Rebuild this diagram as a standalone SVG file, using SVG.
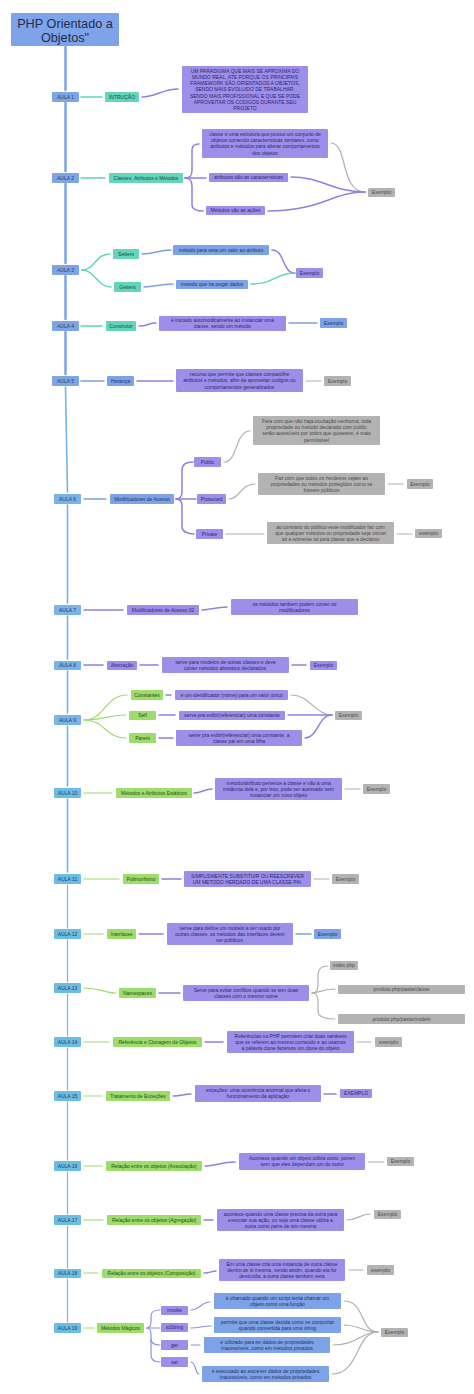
<svg xmlns="http://www.w3.org/2000/svg" width="474" height="1394" viewBox="0 0 474 1394">
<defs>
<style>
text{font-family:"Liberation Sans",Arial,sans-serif;font-size:5px;text-anchor:middle}
.title{font-size:12.7px;fill:#1f2d52}
.tb{fill:#7fa3e8}
.aa{fill:#7ea6e6}.ab{fill:#78b3ea}.ac{fill:#6dbce4}
.ta{fill:#233a6a}
.teal{fill:#63d5bb}.tt{fill:#1c4a40}
.pur{fill:#9d8fe9}.tp{fill:#2d2570}
.gray{fill:#b3b3b3}.tg{fill:#4a4a4a}
.green{fill:#9ddd6c}.tgr{fill:#2c4a16}
.blue{fill:#7ea2e8}.tb2{fill:#1f3364}
path{fill:none;stroke-linecap:round}
.s1{stroke:#7ea3e6;stroke-width:2.5}
.s2{stroke:#72b4ea;stroke-width:1.6}
.s3{stroke:#6cbce4;stroke-width:1.2}
.cteal{stroke:#5fd5bd;stroke-width:1.5}
.cpur{stroke:#8f80e2;stroke-width:1.5}
.cgray{stroke:#b0b0b0;stroke-width:1.2}
.cblue{stroke:#7d9fe6;stroke-width:1.5}
.cgreen{stroke:#9ddb6e;stroke-width:1.2}
.cbp{stroke:#8c90e6;stroke-width:1.2}
</style>
<marker id="arr" viewBox="0 0 6 6" refX="5" refY="3" markerWidth="3" markerHeight="3" orient="auto"><path d="M0,0 L6,3 L0,6 z" fill="#7ea3e6" stroke="none"/></marker>
<marker id="arr2" viewBox="0 0 6 6" refX="5" refY="3" markerWidth="3" markerHeight="3" orient="auto"><path d="M0,0 L6,3 L0,6 z" fill="#6cbce4" stroke="none"/></marker>
</defs>

<g id="connectors">
<!-- spine -->
<path class="s1" d="M65.5,47 L65.5,90" marker-end="url(#arr)"/>
<path class="s1" d="M65.5,103 L65.5,171" marker-end="url(#arr)"/>
<path class="s1" d="M65.5,184 L65.5,263" marker-end="url(#arr)"/>
<path class="s1" d="M65.5,276 L65.5,319" marker-end="url(#arr)"/>
<path class="s1" d="M65.5,332 L65.5,374" marker-end="url(#arr)"/>
<path class="s2" d="M65.5,387 L67.5,492" marker-end="url(#arr2)"/>
<path class="s2" d="M67.5,505 L67.5,603" marker-end="url(#arr2)"/>
<path class="s2" d="M67.5,616 L67.5,659" marker-end="url(#arr2)"/>
<path class="s2" d="M67.5,671 L67.5,713" marker-end="url(#arr2)"/>
<path class="s2" d="M67.5,726 L67.5,786" marker-end="url(#arr2)"/>
<path class="s2" d="M67.5,799 L67.5,872" marker-end="url(#arr2)"/>
<path class="s3" d="M67.5,885 L67.5,928"/>
<path class="s3" d="M67.5,940 L67.5,982"/>
<path class="s3" d="M67.5,994 L67.5,1036"/>
<path class="s3" d="M67.5,1048 L67.5,1090"/>
<path class="s3" d="M67.5,1102 L67.5,1160"/>
<path class="s3" d="M67.5,1172 L67.5,1214"/>
<path class="s3" d="M67.5,1226 L67.5,1268"/>
<path class="s3" d="M67.5,1279 L67.5,1322"/>
<!-- aula 1 -->
<path class="cteal" d="M81,97 L102,97"/>
<path class="cpur" d="M142,97 C155,97 163,89 178,89"/>
<!-- aula 2 -->
<path class="cteal" d="M81,178 L105,178"/>
<path class="cpur" d="M185,178 C190,178 192,176 192,170 L192,150 C192,146 195,144 199,144"/>
<path class="cpur" d="M185,178 L206,178"/>
<path class="cpur" d="M185,178 C190,178 192,180 192,186 L192,205 C192,209 197,211 203,211"/>
<path class="cgray" d="M331,143 C348,143 340,192 365,192"/>
<path class="cpur" d="M291,177 C322,177 332,192 365,192"/>
<path class="cpur" d="M268,211 C322,211 332,192 365,192"/>
<!-- aula 3 -->
<path class="cteal" d="M82,270 C95,270 95,254 110,254"/>
<path class="cteal" d="M82,270 C95,270 97,287 111,287"/>
<path class="cblue" d="M142,254 C155,254 158,250 171,250"/>
<path class="cblue" d="M144,287 C155,287 160,284 173,284"/>
<path class="cpur" d="M272,250 C285,250 282,273 295,273"/>
<path class="cteal" d="M251,284 C275,284 275,273 295,273"/>
<!-- aula 4 -->
<path class="cteal" d="M81,326 L102,326"/>
<path class="cpur" d="M139,326 C148,326 148,323 156,323"/>
<path class="cblue" d="M289,323 L317,323"/>
<!-- aula 5 -->
<path class="cblue" d="M81,381 L104,381"/>
<path class="cpur" d="M137,381 L173,381"/>
<path class="cgray" d="M306,381 L321,381"/>
<!-- aula 6 -->
<path class="cblue" d="M84,499 L106,499"/>
<path class="cpur" d="M176,499 C180,499 182,497 182,492 L182,470 C182,465 186,462 193,462"/>
<path class="cpur" d="M176,499 L196,499"/>
<path class="cpur" d="M176,499 C180,499 182,501 182,506 L182,527 C182,531 187,534 194,534"/>
<path class="cgray" d="M224,462 C238,462 235,431 250,431"/>
<path class="cgray" d="M229,499 C240,499 240,484 255,484"/>
<path class="cgray" d="M388,484 L403,484"/>
<path class="cgray" d="M226,534 L264,534"/>
<path class="cgray" d="M397,534 L412,534"/>
<!-- aula 7 -->
<path class="cpur" d="M84,610 L123,610"/>
<path class="cpur" d="M202,610 C212,610 215,607 227,607"/>
<!-- aula 8 -->
<path class="cpur" d="M84,665 L103,665"/>
<path class="cpur" d="M140,665 L158,665"/>
<path class="cpur" d="M292,665 L306,665"/>
<!-- aula 9 -->
<path class="cgreen" d="M84,720 C105,720 105,695 127,695"/>
<path class="cgreen" d="M84,720 C105,720 108,715 126,715"/>
<path class="cgreen" d="M84,720 C105,720 105,738 126,738"/>
<path class="cpur" d="M166,695 L171,695"/>
<path class="cpur" d="M159,715 L175,715"/>
<path class="cpur" d="M159,738 L173,738"/>
<path class="cgray" d="M291,695 C310,695 315,715 332,715"/>
<path class="cpur" d="M288,715 L332,715"/>
<path class="cpur" d="M305,738 C318,738 318,715 332,715"/>
<!-- aula 10 -->
<path class="cgreen" d="M84,793 L112,793"/>
<path class="cpur" d="M194,793 C202,793 204,789 212,789"/>
<path class="cgray" d="M345,789 L360,789"/>
<!-- aula 11 -->
<path class="cgreen" d="M84,879 L119,879"/>
<path class="cpur" d="M162,879 L181,879"/>
<path class="cgray" d="M314,879 L329,879"/>
<!-- aula 12 -->
<path class="cgreen" d="M84,934 L103,934"/>
<path class="cpur" d="M139,934 L163,934"/>
<path class="cblue" d="M296,934 L311,934"/>
<!-- aula 13 -->
<path class="cgreen" d="M84,988 C100,988 105,993 116,993"/>
<path class="cpur" d="M159,993 L180,993"/>
<path class="cgray" d="M312,993 C316,993 318,990 318,985 L318,975 C318,969 322,966 328,966"/>
<path class="cgray" d="M312,993 C318,993 322,989 335,989"/>
<path class="cgray" d="M312,993 C316,993 318,996 318,1001 L318,1011 C318,1016 324,1019 335,1019"/>
<!-- aula 14 -->
<path class="cgreen" d="M84,1042 L109,1042"/>
<path class="cpur" d="M205,1042 L223,1042"/>
<path class="cgray" d="M357,1042 L371,1042"/>
<!-- aula 15 -->
<path class="cgreen" d="M84,1096 L102,1096"/>
<path class="cpur" d="M173,1096 C182,1096 183,1094 191,1094"/>
<path class="cpur" d="M324,1094 L336,1094"/>
<!-- aula 16 -->
<path class="cgreen" d="M84,1166 L102,1166"/>
<path class="cpur" d="M205,1166 C215,1166 222,1162 235,1162"/>
<path class="cgray" d="M368,1162 L384,1162"/>
<!-- aula 17 -->
<path class="cgreen" d="M84,1220 L103,1220"/>
<path class="cpur" d="M204,1220 L213,1220"/>
<path class="cgray" d="M347,1220 C358,1220 360,1214 370,1214"/>
<!-- aula 18 -->
<path class="cgreen" d="M84,1273 L98,1273"/>
<path class="cpur" d="M204,1273 C210,1273 212,1271 216,1271"/>
<path class="cgray" d="M349,1270 L363,1270"/>
<!-- aula 19 -->
<path class="cgreen" d="M84,1328 L94,1328"/>
<path class="cbp" d="M147,1328 C150,1328 151,1325 151,1321 L151,1316 C151,1312 154,1310 160,1310"/>
<path class="cbp" d="M147,1328 L160,1328"/>
<path class="cbp" d="M147,1328 C150,1328 151,1331 151,1335 L151,1355 C151,1359 154,1362 160,1362"/>
<path class="cbp" d="M151,1339 C151,1343 154,1345 160,1345"/>
<path class="cbp" d="M191,1310 C200,1310 201,1302 210,1302"/>
<path class="cbp" d="M191,1328 C200,1328 202,1326 211,1326"/>
<path class="cbp" d="M191,1345 L200,1345"/>
<path class="cbp" d="M191,1362 C196,1362 195,1374 199,1374"/>
<path class="cgray" d="M344,1301 C365,1301 360,1332 378,1332"/>
<path class="cgray" d="M344,1325 C360,1325 362,1332 378,1332"/>
<path class="cgray" d="M333,1345 C358,1345 360,1332 378,1332"/>
<path class="cgray" d="M332,1374 C360,1374 355,1332 378,1332"/>
</g>

<g id="title"><rect class="tb" x="11" y="13" width="108" height="33" rx="1"/><text class="title" x="65" y="28">PHP Orientado a</text><text class="title" x="65" y="41.5">Objetos"</text></g>

<g id="aula1"><rect class="aa" x="52" y="92" width="27" height="10" rx="1"/><text class="ta" x="65.5" y="98.8">AULA 1</text></g>
<g id="intrucao"><rect class="teal" x="105" y="92" width="34" height="10" rx="1"/><text class="tt" x="122" y="98.8">INTRUÇÃO</text></g>
<g id="paradigma"><rect class="pur" x="182" y="66" width="126" height="47" rx="1"/><text class="tp" x="245" y="72.7">UM PARADIGMA QUE MAIS SE APROXIMA DO</text><text class="tp" x="245" y="78.9">MUNDO REAL, ATE PORQUE OS PRINCIPAIS</text><text class="tp" x="245" y="85.1">FRAMEWORK SÃO ORIENTADOS A OBJETOS,</text><text class="tp" x="245" y="91.3">SENDO MAIS EVOLUIDO DE TRABALHAR,</text><text class="tp" x="245" y="97.5">SENDO MAIS PROFISSIONAL E QUE SE PODE</text><text class="tp" x="245" y="103.7">APROVEITAR OS CODIGOS DURANTE SEU</text><text class="tp" x="245" y="109.9">PROJETO</text></g>

<g id="aula2"><rect class="aa" x="52" y="173" width="27" height="10" rx="1"/><text class="ta" x="65.5" y="179.8">AULA 2</text></g>
<g id="classes"><rect class="teal" x="109" y="173" width="74" height="10" rx="1"/><text class="tt" x="146" y="179.8">Classes, Atributos e Métodos</text></g>
<g id="classe-desc"><rect class="pur" x="202" y="129" width="126" height="29" rx="1"/><text class="tp" x="265" y="136">classe é uma estrutura que possui um conjunto de</text><text class="tp" x="265" y="142.2">objetos contendo características similares, como</text><text class="tp" x="265" y="148.4">atributos e métodos para alterar comportamentos</text><text class="tp" x="265" y="154.6">dos objetos</text></g>
<g id="atributos"><rect class="pur" x="209" y="173" width="79" height="9" rx="1"/><text class="tp" x="248.5" y="179.3">atributos são as características</text></g>
<g id="metodos"><rect class="pur" x="206" y="206" width="59" height="9" rx="1"/><text class="tp" x="235.5" y="212.3">Métodos são as ações</text></g>
<g id="ex2"><rect class="gray" x="368" y="188" width="27" height="9" rx="1"/><text class="tg" x="381.5" y="194.3">Exemplo</text></g>

<g id="aula3"><rect class="aa" x="52" y="265" width="27" height="10" rx="1"/><text class="ta" x="65.5" y="271.8">AULA 3</text></g>
<g id="setters"><rect class="teal" x="113" y="249" width="26" height="10" rx="1"/><text class="tt" x="126" y="255.8">Setters</text></g>
<g id="getters"><rect class="teal" x="114" y="282" width="27" height="10" rx="1"/><text class="tt" x="127.5" y="288.8">Getters</text></g>
<g id="setters-desc"><rect class="blue" x="173" y="245" width="96" height="10" rx="1"/><text class="tb2" x="221" y="251.8">método para seta um valor ao atributo</text></g>
<g id="getters-desc"><rect class="blue" x="176" y="280" width="72" height="9" rx="1"/><text class="tb2" x="212" y="286.3">método que ira pegar dados</text></g>
<g id="ex3"><rect class="pur" x="296" y="268" width="27" height="10" rx="1"/><text class="tp" x="309.5" y="274.8">Exemplo</text></g>

<g id="aula4"><rect class="aa" x="52" y="321" width="27" height="10" rx="1"/><text class="ta" x="65.5" y="327.8">AULA 4</text></g>
<g id="construtor"><rect class="teal" x="106" y="321" width="30" height="10" rx="1"/><text class="tt" x="121" y="327.8">Construtor</text></g>
<g id="construtor-desc"><rect class="pur" x="159" y="316" width="127" height="15" rx="1"/><text class="tp" x="222.5" y="322.2">é iniciado automodicamente ao instanciar uma</text><text class="tp" x="222.5" y="328.4">classe, sendo um método</text></g>
<g id="ex4"><rect class="blue" x="320" y="318" width="27" height="10" rx="1"/><text class="tb2" x="333.5" y="324.8">Exemplo</text></g>

<g id="aula5"><rect class="aa" x="52" y="376" width="27" height="10" rx="1"/><text class="ta" x="65.5" y="382.8">AULA 5</text></g>
<g id="heranca"><rect class="blue" x="107" y="376" width="27" height="10" rx="1"/><text class="tb2" x="120.5" y="382.8">Herança</text></g>
<g id="heranca-desc"><rect class="pur" x="176" y="369" width="127" height="23" rx="1"/><text class="tp" x="239.5" y="376.1">recurso que permite que classes compartilhe</text><text class="tp" x="239.5" y="382.3">atributos e métodos, afim de aproveitar codigos ou</text><text class="tp" x="239.5" y="388.5">comportamentos generalizados</text></g>
<g id="ex5"><rect class="gray" x="324" y="376" width="27" height="10" rx="1"/><text class="tg" x="337.5" y="382.8">Exemplo</text></g>

<g id="aula6"><rect class="ab" x="54" y="494" width="27" height="10" rx="1"/><text class="ta" x="67.5" y="500.8">AULA 6</text></g>
<g id="modificadores"><rect class="blue" x="110" y="494" width="64" height="10" rx="1"/><text class="tb2" x="142" y="500.8">Modificadores de Acesso</text></g>
<g id="public"><rect class="pur" x="194" y="457" width="27" height="10" rx="1"/><text class="tp" x="207.5" y="463.8">Public</text></g>
<g id="protected"><rect class="pur" x="197" y="494" width="29" height="10" rx="1"/><text class="tp" x="211.5" y="500.8">Protected</text></g>
<g id="private"><rect class="pur" x="196" y="529" width="27" height="10" rx="1"/><text class="tp" x="209.5" y="535.8">Private</text></g>
<g id="public-desc"><rect class="gray" x="253" y="416" width="127" height="29" rx="1"/><text class="tg" x="316.5" y="423">Fara com que não haja ocultação nenhuma, toda</text><text class="tg" x="316.5" y="429.2">propriedade ou método declarado com public</text><text class="tg" x="316.5" y="435.4">serão acessíveis por todos que quiserem, é mais</text><text class="tg" x="316.5" y="441.6">permissivel</text></g>
<g id="protected-desc"><rect class="gray" x="258" y="473" width="127" height="22" rx="1"/><text class="tg" x="321.5" y="479.6">Faz com que todos os herdeiros vejam as</text><text class="tg" x="321.5" y="485.8">propriedades ou métodos protegidos como se</text><text class="tg" x="321.5" y="492">fossem públicos</text></g>
<g id="ex6b"><rect class="gray" x="407" y="479" width="26" height="10" rx="1"/><text class="tg" x="420" y="485.8">Exemplo</text></g>
<g id="private-desc"><rect class="gray" x="267" y="522" width="127" height="22" rx="1"/><text class="tg" x="330.5" y="528.6">ao contrario do público esse modificador faz com</text><text class="tg" x="330.5" y="534.8">que qualquer métodos ou propriedade seja visível</text><text class="tg" x="330.5" y="541">só e somente só pela classe que a declarou</text></g>
<g id="ex6c"><rect class="gray" x="415" y="529" width="27" height="9" rx="1"/><text class="tg" x="428.5" y="535.3">exemplo</text></g>

<g id="aula7"><rect class="ab" x="54" y="605" width="27" height="10" rx="1"/><text class="ta" x="67.5" y="611.8">AULA 7</text></g>
<g id="modificadores02"><rect class="pur" x="127" y="605" width="72" height="10" rx="1"/><text class="tp" x="163" y="611.8">Modificadores de Acesso 02</text></g>
<g id="mod02-desc"><rect class="pur" x="231" y="599" width="127" height="16" rx="1"/><text class="tp" x="294.5" y="605.7">os métodos também podem conter os</text><text class="tp" x="294.5" y="611.9">modificadores</text></g>

<g id="aula8"><rect class="ab" x="54" y="661" width="27" height="9" rx="1"/><text class="ta" x="67.5" y="667.3">AULA 8</text></g>
<g id="abstracao"><rect class="pur" x="107" y="661" width="30" height="9" rx="1"/><text class="tp" x="122" y="667.3">Abstração</text></g>
<g id="abstracao-desc"><rect class="pur" x="162" y="657" width="127" height="16" rx="1"/><text class="tp" x="225.5" y="663.7">serve para modelos de outras classes e deve</text><text class="tp" x="225.5" y="669.9">conter métodos abstratos declarados.</text></g>
<g id="ex8"><rect class="pur" x="310" y="661" width="27" height="9" rx="1"/><text class="tp" x="323.5" y="667.3">Exemplo</text></g>

<g id="aula9"><rect class="ab" x="54" y="715" width="27" height="10" rx="1"/><text class="ta" x="67.5" y="721.8">AULA 9</text></g>
<g id="constantes"><rect class="green" x="131" y="690" width="32" height="10" rx="1"/><text class="tgr" x="147" y="696.8">Constantes</text></g>
<g id="self"><rect class="green" x="129" y="711" width="27" height="9" rx="1"/><text class="tgr" x="142.5" y="717.3">Self</text></g>
<g id="parent"><rect class="green" x="129" y="733" width="27" height="10" rx="1"/><text class="tgr" x="142.5" y="739.8">Parent</text></g>
<g id="constantes-desc"><rect class="pur" x="175" y="690" width="113" height="10" rx="1"/><text class="tp" x="231.5" y="696.8">é um identificador (nome) para um valor único</text></g>
<g id="self-desc"><rect class="pur" x="179" y="711" width="106" height="9" rx="1"/><text class="tp" x="232" y="717.3">serve pra exibir(referenciar) uma constante</text></g>
<g id="parent-desc"><rect class="pur" x="176" y="730" width="126" height="16" rx="1"/><text class="tp" x="239" y="736.7">serve pra exibir(referenciar) uma constante, a</text><text class="tp" x="239" y="742.9">classe pai em uma filha</text></g>
<g id="ex9"><rect class="gray" x="335" y="711" width="27" height="9" rx="1"/><text class="tg" x="348.5" y="717.3">Exemplo</text></g>

<g id="aula10"><rect class="ac" x="54" y="788" width="27" height="10" rx="1"/><text class="ta" x="67.5" y="794.8">AULA 10</text></g>
<g id="estaticos"><rect class="green" x="116" y="788" width="76" height="10" rx="1"/><text class="tgr" x="154" y="794.8">Métodos e Atributos Estáticos</text></g>
<g id="estaticos-desc"><rect class="pur" x="215" y="778" width="127" height="22" rx="1"/><text class="tp" x="278.5" y="784.6">método/atributo pertence à classe e não à uma</text><text class="tp" x="278.5" y="790.8">instância dela e, por isso, pode ser acessado sem</text><text class="tp" x="278.5" y="797">instanciar um novo objeto</text></g>
<g id="ex10"><rect class="gray" x="363" y="784" width="27" height="10" rx="1"/><text class="tg" x="376.5" y="790.8">Exemplo</text></g>

<g id="aula11"><rect class="ac" x="54" y="874" width="27" height="10" rx="1"/><text class="ta" x="67.5" y="880.8">AULA 11</text></g>
<g id="polimorfismo"><rect class="green" x="123" y="874" width="36" height="10" rx="1"/><text class="tgr" x="141" y="880.8">Polimorfismo</text></g>
<g id="polimorfismo-desc"><rect class="pur" x="184" y="871" width="127" height="16" rx="1"/><text class="tp" x="247.5" y="877.7">SIMPLISMENTE SUBSTITUIR OU REESCREVER</text><text class="tp" x="247.5" y="883.9">UM METODO HERDADO DE UMA CLASSE PAI.</text></g>
<g id="ex11"><rect class="gray" x="332" y="874" width="27" height="10" rx="1"/><text class="tg" x="345.5" y="880.8">Exemplo</text></g>

<g id="aula12"><rect class="ac" x="54" y="929" width="27" height="10" rx="1"/><text class="ta" x="67.5" y="935.8">AULA 12</text></g>
<g id="interfaces"><rect class="green" x="107" y="929" width="29" height="10" rx="1"/><text class="tgr" x="121.5" y="935.8">Interfaces</text></g>
<g id="interfaces-desc"><rect class="pur" x="167" y="923" width="126" height="22" rx="1"/><text class="tp" x="230" y="929.6">serve para define um modelo a ser usado por</text><text class="tp" x="230" y="935.8">outras classes, os métodos das interfaces devem</text><text class="tp" x="230" y="942">ser públicos.</text></g>
<g id="ex12"><rect class="blue" x="314" y="929" width="27" height="10" rx="1"/><text class="tb2" x="327.5" y="935.8">Exemplo</text></g>

<g id="aula13"><rect class="ac" x="54" y="983" width="27" height="10" rx="1"/><text class="ta" x="67.5" y="989.8">AULA 13</text></g>
<g id="namespaces"><rect class="green" x="119" y="988" width="37" height="10" rx="1"/><text class="tgr" x="137.5" y="994.8">Namespaces</text></g>
<g id="namespaces-desc"><rect class="pur" x="183" y="985" width="126" height="16" rx="1"/><text class="tp" x="246" y="991.7">Serve para evitar conflitos quando se tem duas</text><text class="tp" x="246" y="997.9">classes com o mesmo nome</text></g>
<g id="indexphp"><rect class="gray" x="330" y="961" width="28" height="9" rx="1"/><text class="tg" x="344" y="967.3">index.php</text></g>
<g id="pasta-classe"><rect class="gray" x="338" y="985" width="127" height="9" rx="1"/><text class="tg" x="401.5" y="991.3">produto.php/pasta/classe</text></g>
<g id="pasta-models"><rect class="gray" x="338" y="1014" width="127" height="10" rx="1"/><text class="tg" x="401.5" y="1020.8">produto.php/pasta/models</text></g>

<g id="aula14"><rect class="ac" x="54" y="1037" width="27" height="10" rx="1"/><text class="ta" x="67.5" y="1043.8">AULA 14</text></g>
<g id="referencia"><rect class="green" x="113" y="1037" width="89" height="10" rx="1"/><text class="tgr" x="157.5" y="1043.8">Referência e Clonagem de Objetos</text></g>
<g id="referencia-desc"><rect class="pur" x="227" y="1031" width="127" height="22" rx="1"/><text class="tp" x="290.5" y="1037.6">Referências no PHP permitem criar duas variáveis</text><text class="tp" x="290.5" y="1043.8">que se referem ao mesmo conteúdo e ao usamos</text><text class="tp" x="290.5" y="1050">a palavra clone fazemos um clone do objeto</text></g>
<g id="ex14"><rect class="gray" x="375" y="1037" width="27" height="10" rx="1"/><text class="tg" x="388.5" y="1043.8">exemplo</text></g>

<g id="aula15"><rect class="ac" x="54" y="1091" width="27" height="10" rx="1"/><text class="ta" x="67.5" y="1097.8">AULA 15</text></g>
<g id="tratamento"><rect class="green" x="106" y="1091" width="64" height="10" rx="1"/><text class="tgr" x="138" y="1097.8">Tratamento de Exceções</text></g>
<g id="tratamento-desc"><rect class="pur" x="195" y="1085" width="126" height="17" rx="1"/><text class="tp" x="258" y="1092.2">exceções: uma ocorrência anormal que afeta o</text><text class="tp" x="258" y="1098.4">funcionamento da aplicação</text></g>
<g id="ex15"><rect class="pur" x="340" y="1089" width="32" height="9" rx="1"/><text class="tp" x="356" y="1095.3">EXEMPLO</text></g>

<g id="aula16"><rect class="ac" x="54" y="1161" width="27" height="10" rx="1"/><text class="ta" x="67.5" y="1167.8">AULA 16</text></g>
<g id="associacao"><rect class="green" x="106" y="1161" width="96" height="10" rx="1"/><text class="tgr" x="154" y="1167.8">Relação entre os objetos (Associação)</text></g>
<g id="associacao-desc"><rect class="pur" x="239" y="1153" width="126" height="17" rx="1"/><text class="tp" x="302" y="1160.2">Acontece quando um objeto utiliza outro, porem</text><text class="tp" x="302" y="1166.4">sem que eles dependam um do outro</text></g>
<g id="ex16"><rect class="gray" x="387" y="1157" width="27" height="9" rx="1"/><text class="tg" x="400.5" y="1163.3">Exemplo</text></g>

<g id="aula17"><rect class="ac" x="54" y="1215" width="27" height="10" rx="1"/><text class="ta" x="67.5" y="1221.8">AULA 17</text></g>
<g id="agregacao"><rect class="green" x="107" y="1215" width="94" height="10" rx="1"/><text class="tgr" x="154" y="1221.8">Relação entre os objetos (Agregação)</text></g>
<g id="agregacao-desc"><rect class="pur" x="217" y="1209" width="127" height="22" rx="1"/><text class="tp" x="280.5" y="1215.6">acontece quando uma classe precisa da outra para</text><text class="tp" x="280.5" y="1221.8">executar sua ação, ou seja uma classe utiliza a</text><text class="tp" x="280.5" y="1228">outra como parte de sim mesma</text></g>
<g id="ex17"><rect class="gray" x="374" y="1210" width="27" height="9" rx="1"/><text class="tg" x="387.5" y="1216.3">Exemplo</text></g>

<g id="aula18"><rect class="ac" x="54" y="1269" width="27" height="9" rx="1"/><text class="ta" x="67.5" y="1275.3">AULA 18</text></g>
<g id="composicao"><rect class="green" x="102" y="1269" width="99" height="9" rx="1"/><text class="tgr" x="151.5" y="1275.3">Relação entre os objetos (Composição)</text></g>
<g id="composicao-desc"><rect class="pur" x="219" y="1259" width="126" height="22" rx="1"/><text class="tp" x="282" y="1265.6">Em uma classe cria uma instancia de outra classe</text><text class="tp" x="282" y="1271.8">dentro de si mesma, sendo assim, quando ela for</text><text class="tp" x="282" y="1278">destruída, a outra classe também sera</text></g>
<g id="ex18"><rect class="gray" x="367" y="1265" width="27" height="10" rx="1"/><text class="tg" x="380.5" y="1271.8">exemplo</text></g>

<g id="aula19"><rect class="ac" x="54" y="1323" width="27" height="10" rx="1"/><text class="ta" x="67.5" y="1329.8">AULA 19</text></g>
<g id="magicos"><rect class="green" x="97" y="1323" width="47" height="10" rx="1"/><text class="tgr" x="120.5" y="1329.8">Métodos Mágicos</text></g>
<g id="invoke"><rect class="pur" x="161" y="1306" width="27" height="9" rx="1"/><text class="tp" x="174.5" y="1312.3">invoke</text></g>
<g id="tostring"><rect class="pur" x="161" y="1323" width="27" height="9" rx="1"/><text class="tp" x="174.5" y="1329.3">toString</text></g>
<g id="get"><rect class="pur" x="161" y="1340" width="27" height="10" rx="1"/><text class="tp" x="174.5" y="1346.8">get</text></g>
<g id="set"><rect class="pur" x="161" y="1357" width="27" height="10" rx="1"/><text class="tp" x="174.5" y="1363.8">set</text></g>
<g id="invoke-desc"><rect class="blue" x="214" y="1293" width="127" height="16" rx="1"/><text class="tb2" x="277.5" y="1299.7">é chamado quando um script tenta chamar um</text><text class="tb2" x="277.5" y="1305.9">objeto como uma função</text></g>
<g id="tostring-desc"><rect class="blue" x="214" y="1317" width="127" height="16" rx="1"/><text class="tb2" x="277.5" y="1323.7">permite que uma classe decida como se comportar</text><text class="tb2" x="277.5" y="1329.9">quando convertida para uma string</text></g>
<g id="get-desc"><rect class="blue" x="204" y="1337" width="126" height="16" rx="1"/><text class="tb2" x="267" y="1343.7">é utilizado para ler dados de propriedades</text><text class="tb2" x="267" y="1349.9">inacessíveis, como em métodos privados</text></g>
<g id="set-desc"><rect class="blue" x="202" y="1366" width="127" height="16" rx="1"/><text class="tb2" x="265.5" y="1372.7">é executado ao escrever dados de propriedades</text><text class="tb2" x="265.5" y="1378.9">inacessíveis, como em métodos privados</text></g>
<g id="ex19"><rect class="gray" x="381" y="1328" width="27" height="9" rx="1"/><text class="tg" x="394.5" y="1334.3">Exemplo</text></g>
</svg>
